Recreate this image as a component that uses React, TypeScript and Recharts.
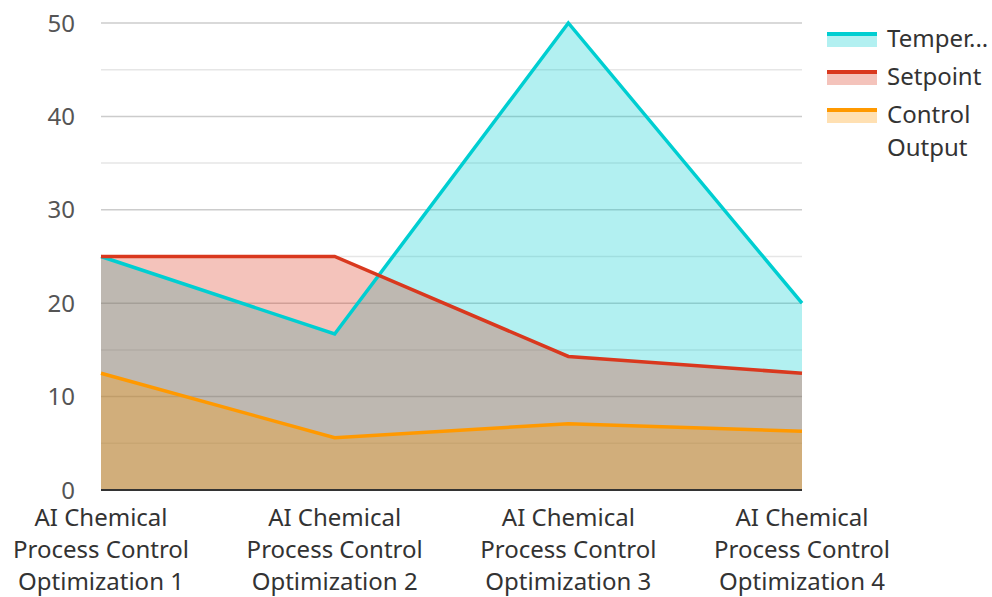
import { AreaChart, Area, XAxis, YAxis, CartesianGrid, Legend } from "recharts";

const categories = [
  "AI Chemical Process Control Optimization 1",
  "AI Chemical Process Control Optimization 2",
  "AI Chemical Process Control Optimization 3",
  "AI Chemical Process Control Optimization 4",
];
const temperature = [25, 16.7, 50, 20];
const setpoint = [25, 25, 14.3, 12.5];
const controlOutput = [12.5, 5.6, 7.1, 6.3];

const majorTicks = [0, 10, 20, 30, 40, 50];
const minorTicks = [5, 15, 25, 35, 45];

const series = [
  { key: "temperature", name: "Temperature", legend: "Temper...", color: "#00CED1" },
  { key: "setpoint", name: "Setpoint", legend: "Setpoint", color: "#D9381E" },
  { key: "controlOutput", name: "Control Output", legend: "Control\nOutput", color: "#FF9900" },
];

const data = categories.map((category, i) => ({
  category,
  temperature: temperature[i],
  setpoint: setpoint[i],
  controlOutput: controlOutput[i],
}));

const FONT = "'Noto Sans', sans-serif";

const wrap = (text: string, max: number) => {
  const words = text.split(" ");
  const lines: string[] = [];
  let cur = "";
  words.forEach((w) => {
    const next = cur ? cur + " " + w : w;
    if (next.length > max && cur) {
      lines.push(cur);
      cur = w;
    } else {
      cur = next;
    }
  });
  if (cur) lines.push(cur);
  return lines;
};

const XTick = ({ x, y, payload }: any) => {
  const lines = wrap(payload.value, 15);
  return (
    <text x={x} y={y + 28} textAnchor="middle" fill="#333" fontSize={24} fontFamily={FONT}>
      {lines.map((l, i) => (
        <tspan key={i} x={x} dy={i === 0 ? 0 : 32}>
          {l}
        </tspan>
      ))}
    </text>
  );
};

const LegendContent = () => (
  <div style={{ fontFamily: FONT, fontSize: 24, color: "#333", paddingLeft: 25 }}>
    {series.map((s) => (
      <div key={s.key} style={{ display: "flex", alignItems: "flex-start", marginBottom: 5 }}>
        <div style={{ width: 50, marginTop: 11, flexShrink: 0 }}>
          <div style={{ height: 4, background: s.color }} />
          <div style={{ height: 11, background: s.color, opacity: 0.3 }} />
        </div>
        <div style={{ marginLeft: 10, lineHeight: "33px", whiteSpace: "pre" }}>{s.legend}</div>
      </div>
    ))}
  </div>
);

export default function App() {
  return (
    <div style={{ position: "absolute", left: 0, top: 0, background: "#fff" }}>
      <AreaChart width={992} height={597} data={data} margin={{ top: 23, right: 20, left: 0, bottom: 0 }}>
        <CartesianGrid vertical={false} horizontalValues={minorTicks} stroke="#e6e6e6" strokeWidth={1.5} />
        <CartesianGrid vertical={false} horizontalValues={majorTicks} stroke="#cccccc" strokeWidth={1.5} />
        <XAxis
          dataKey="category"
          tick={<XTick />}
          tickLine={false}
          axisLine={{ stroke: "#333", strokeWidth: 2 }}
          height={107}
          interval={0}
        />
        <YAxis
          domain={[0, 50]}
          ticks={majorTicks}
          width={101}
          axisLine={false}
          tickLine={false}
          tickMargin={20}
          tick={{ fill: "#555", fontSize: 24, fontFamily: FONT }}
        />
        <Legend
          layout="vertical"
          align="right"
          verticalAlign="top"
          content={<LegendContent />}
          wrapperStyle={{ width: 170, top: 21 }}
        />
        {series.map((s) => (
          <Area
            key={s.key + "-fill"}
            type="linear"
            dataKey={s.key}
            name={s.name}
            stroke="none"
            fill={s.color}
            fillOpacity={0.3}
            dot={false}
            activeDot={false}
            legendType="none"
            isAnimationActive={false}
          />
        ))}
        {series.map((s) => (
          <Area
            key={s.key + "-line"}
            type="linear"
            dataKey={s.key}
            name={s.name}
            stroke={s.color}
            strokeWidth={3.5}
            fill="none"
            dot={false}
            activeDot={false}
            isAnimationActive={false}
          />
        ))}
      </AreaChart>
    </div>
  );
}
